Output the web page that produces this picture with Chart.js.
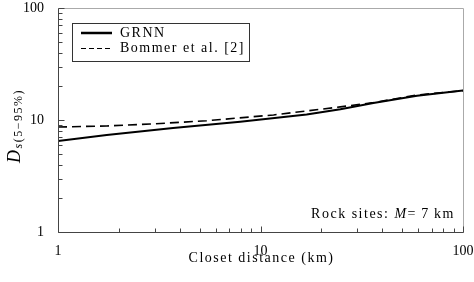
<!DOCTYPE html>
<html>
<head>
<meta charset="utf-8">
<script src="https://cdn.jsdelivr.net/npm/chart.js@4/dist/chart.umd.min.js"></script>
<style>
  html, body { margin: 0; padding: 0; background: #fff; }
  #wrap { width: 474px; height: 282px; }
</style>
</head>
<body>
<div id="wrap"><canvas id="myChart"></canvas></div>
<script>
// values
const grnnDistance = [1, 1.74, 3.7, 7.94, 16.9, 24.8, 36.1, 59.3, 100];
const grnnDuration = [6.5, 7.35, 8.5, 9.65, 11.2, 12.5, 14.2, 16.5, 18.3];
const bommerDistance = [1, 1.74, 2.85, 5.43, 11.6, 24.8, 36.1, 59.3, 100];
const bommerDuration = [8.65, 8.85, 9.2, 9.85, 11.1, 13.1, 14.3, 16.7, 18.3];
const xTickLabels = [1, 10, 100];
const yTickLabels = [1, 10, 100];
const seriesNames = ["GRNN", "Bommer et al. [2]"];

const serif = "'Liberation Serif', 'DejaVu Serif', serif";

const toPoints = (xs, ys) => xs.map((x, i) => ({x: x, y: ys[i]}));

// frame, inward ticks, axis titles, legend and note
const decorations = {
  id: 'decorations',
  afterDraw(chart) {
    const ctx = chart.ctx;
    const a = chart.chartArea;
    const xs = chart.scales.x, ys = chart.scales.y;
    ctx.save();
    ctx.lineWidth = 1;
    const L = a.left + 0.5, R = a.right + 0.5, T = a.top + 0.5, B = a.bottom + 0.5;
    ctx.strokeStyle = '#aaa';
    ctx.beginPath(); ctx.moveTo(L, T); ctx.lineTo(R, T); ctx.lineTo(R, B); ctx.stroke();
    ctx.strokeStyle = '#444';
    ctx.beginPath(); ctx.moveTo(L, T); ctx.lineTo(L, B); ctx.lineTo(R, B); ctx.stroke();

    // inward ticks
    ctx.beginPath();
    for (let d = 1; d <= 3; d++) {
      for (let m = 1; m <= 9; m++) {
        const v = m * Math.pow(10, d - 1);
        if (v > 100) continue;
        const len = m === 1 ? 6 : 4;
        const px = Math.round(xs.getPixelForValue(v)) + 0.5;
        ctx.moveTo(px, B); ctx.lineTo(px, B - len);
        const py = Math.round(ys.getPixelForValue(v)) + 0.5;
        ctx.moveTo(L, py); ctx.lineTo(L + len, py);
      }
    }
    ctx.stroke();

    ctx.fillStyle = '#000';
    ctx.letterSpacing = '1.5px';

    // x title
    ctx.font = '14px ' + serif;
    ctx.textAlign = 'center';
    ctx.textBaseline = 'alphabetic';
    ctx.fillText('Closet distance (km)', (a.left + a.right) / 2 + 1, 262);

    // y title: D_s(5-95%)
    ctx.textAlign = 'left';
    ctx.translate(15, 126);
    ctx.rotate(-Math.PI / 2);
    ctx.textBaseline = 'middle';
    ctx.font = 'italic 18px ' + serif;
    const w1 = ctx.measureText('D').width;
    ctx.font = 'italic 12px ' + serif;
    const w2 = ctx.measureText('s').width;
    ctx.font = '12px ' + serif;
    const sub = '(5\u221295%)';
    const w3 = ctx.measureText(sub).width;
    const x0 = -(w1 + w2 + w3) / 2;
    ctx.font = 'italic 18px ' + serif;
    ctx.fillText('D', x0, 0);
    ctx.font = 'italic 12px ' + serif;
    ctx.fillText('s', x0 + w1, 4);
    ctx.font = '12px ' + serif;
    ctx.fillText(sub, x0 + w1 + w2, 4);
    ctx.setTransform(1, 0, 0, 1, 0, 0);

    // legend box
    ctx.strokeStyle = '#333';
    ctx.strokeRect(72.5, 23.5, 177, 38);
    ctx.strokeStyle = '#000';
    ctx.lineWidth = 2.5;
    ctx.beginPath(); ctx.moveTo(81, 33); ctx.lineTo(112, 33); ctx.stroke();
    ctx.lineWidth = 1;
    ctx.setLineDash([5, 3]);
    ctx.beginPath(); ctx.moveTo(81, 48.5); ctx.lineTo(112, 48.5); ctx.stroke();
    ctx.setLineDash([]);
    ctx.font = '14px ' + serif;
    ctx.textAlign = 'left';
    ctx.fillText(seriesNames[0], 120, 33);
    ctx.fillText(seriesNames[1], 120, 48);

    // note
    ctx.textAlign = 'right';
    ctx.textBaseline = 'alphabetic';
    const nx = 455, ny = 218;
    ctx.font = '14px ' + serif;
    const tail = '=\u20097\u2009km';
    const tw = ctx.measureText(tail).width;
    ctx.fillText(tail, nx, ny);
    ctx.font = 'italic 14px ' + serif;
    const mw = ctx.measureText('M').width;
    ctx.fillText('M', nx - tw, ny);
    ctx.font = '14px ' + serif;
    ctx.fillText('Rock sites: ', nx - tw - mw, ny);
    ctx.restore();
  }
};

new Chart(document.getElementById('myChart').getContext('2d'), {
  type: 'line',
  data: {
    datasets: [
      {
        label: seriesNames[0],
        data: toPoints(grnnDistance, grnnDuration),
        borderColor: '#000',
        borderWidth: 2,
        pointRadius: 0,
        fill: false
      },
      {
        label: seriesNames[1],
        data: toPoints(bommerDistance, bommerDuration),
        borderColor: '#000',
        borderWidth: 1.6,
        borderDash: [9, 5],
        pointRadius: 0,
        fill: false
      }
    ]
  },
  options: {
    responsive: true,
    maintainAspectRatio: false,
    animation: false,
    layout: { padding: { left: 0, top: 8, right: 11, bottom: 0 } },
    plugins: { legend: { display: false }, tooltip: { enabled: false } },
    scales: {
      x: {
        type: 'logarithmic',
        min: 1, max: 100,
        grid: { display: false },
        border: { display: false },
        afterFit: (s) => { s.height = 50; s.paddingLeft = 0; s.paddingRight = 0; },
        ticks: {
          color: '#000',
          font: { family: serif, size: 14 },
          padding: 3,
          maxRotation: 0,
          autoSkip: false,
          callback: (v) => xTickLabels.includes(v) ? String(v) : null
        }
      },
      y: {
        type: 'logarithmic',
        min: 1, max: 100,
        grid: { display: false },
        border: { display: false },
        afterFit: (s) => { s.width = 58; s.paddingTop = 0; s.paddingBottom = 0; },
        ticks: {
          color: '#000',
          font: { family: serif, size: 14 },
          padding: 6,
          autoSkip: false,
          callback: (v) => yTickLabels.includes(v) ? String(v) : null
        }
      }
    }
  },
  plugins: [decorations]
});
</script>
</body>
</html>
